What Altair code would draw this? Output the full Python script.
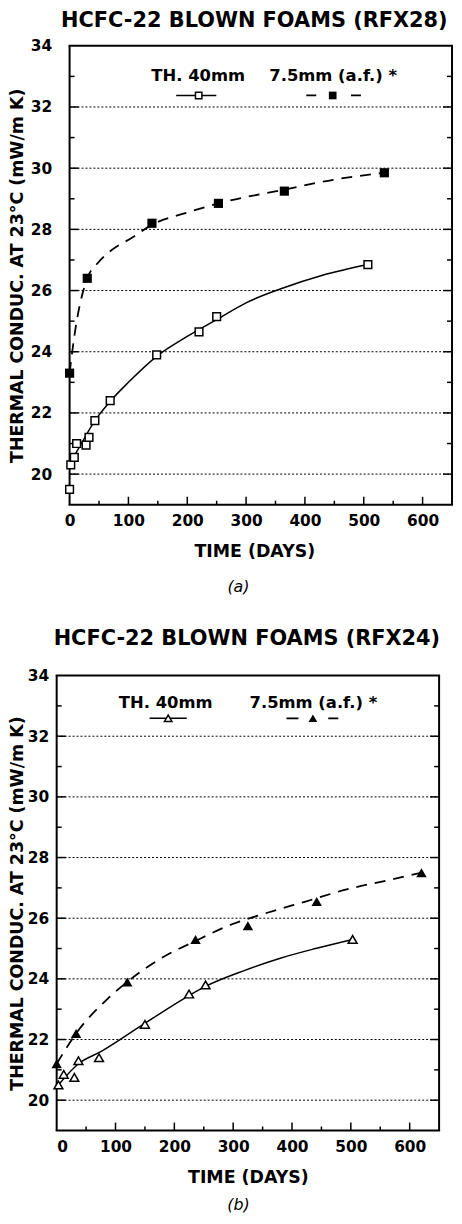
import altair as alt
import pandas as pd

FONT = "DejaVu Sans"
Y_TITLE = "THERMAL CONDUC. AT 23°C (mW/m K)"
X_TITLE = "TIME (DAYS)"

# ---- axis ticks / grid ----
y_major = [20, 22, 24, 26, 28, 30, 32, 34]
y_grid = [20, 22, 24, 26, 28, 30, 32]
y_minor = [21, 23, 25, 27, 29, 31, 33]
x_major = [0, 100, 200, 300, 400, 500, 600]
x_minor = [50, 150, 250, 350, 450, 550]
x_inner_major = [100, 200, 300, 400, 500, 600]

legend_labels = ["TH. 40mm", "7.5mm (a.f.) *"]

# ---- panel (a): RFX28 ----
a_title = "HCFC-22 BLOWN FOAMS (RFX28)"
a_caption = "(a)"
a_th_day = [0, 2, 8, 12, 28, 33, 43, 69, 148, 220, 250, 507]
a_th_k = [19.5, 20.3, 20.55, 21.0, 20.95, 21.2, 21.75, 22.4, 23.9, 24.65, 25.15, 26.85]
a_af_day = [0, 30, 140, 253, 365, 535]
a_af_k = [23.3, 26.4, 28.2, 28.85, 29.25, 29.85]
# drawn curves
a_th_curve_day = [2, 20, 43, 70, 100, 148, 200, 250, 300, 358, 430, 507]
a_th_curve_k = [20.4, 21.0, 21.75, 22.4, 23.0, 23.85, 24.5, 25.05, 25.6, 26.05, 26.5, 26.85]
a_af_curve_day = [0, 8, 30, 48, 70, 108, 140, 200, 253, 365, 448, 535]
a_af_curve_k = [23.3, 24.5, 26.4, 26.9, 27.3, 27.75, 28.15, 28.55, 28.85, 29.3, 29.62, 29.85]

# ---- panel (b): RFX24 ----
b_title = "HCFC-22 BLOWN FOAMS (RFX24)"
b_caption = "(b)"
b_th_day = [3, 12, 30, 37, 72, 150, 225, 253, 503]
b_th_k = [20.5, 20.85, 20.75, 21.3, 21.4, 22.5, 23.5, 23.8, 25.3]
b_af_day = [0, 33, 120, 236, 325, 442, 620]
b_af_k = [21.2, 22.2, 23.9, 25.3, 25.75, 26.55, 27.5]
b_th_curve_day = [5, 37, 75, 147, 225, 253, 320, 380, 440, 503]
b_th_curve_k = [20.55, 21.2, 21.6, 22.5, 23.45, 23.75, 24.28, 24.68, 25.0, 25.3]
b_af_curve_day = [0, 33, 87, 120, 175, 236, 298, 353, 423, 493, 563, 620]
b_af_curve_k = [21.2, 22.2, 23.35, 23.9, 24.65, 25.25, 25.8, 26.15, 26.55, 26.95, 27.25, 27.5]

W = 385          # plot-frame width in px
XMAX = 650
F = W / 391.0    # legend layout factor


def panel(title, caption, th_day, th_k, af_day, af_k, thc_day, thc_k, afc_day, afc_k, shape, H, cfg):
    off = cfg["off"]                      # extra px to the left of the frame
    Wf = W + off
    xmin = -off * XMAX / W

    def X(f):
        return alt.X(f + ":Q", scale=alt.Scale(domain=[xmin, XMAX], nice=False, zero=False),
                     axis=alt.Axis(values=x_major, title=X_TITLE, grid=False,
                                   labelPadding=9, titlePadding=14))

    def Y(f):
        return alt.Y(f + ":Q", scale=alt.Scale(domain=[19, 34], nice=False, zero=False),
                     axis=alt.Axis(values=y_major, title=Y_TITLE, grid=False, minExtent=0,
                                   offset=-off, labelPadding=cfg["lp"], titlePadding=cfg["tp"]))

    th = pd.DataFrame({"day": th_day, "k": th_k})
    af = pd.DataFrame({"day": af_day, "k": af_k})
    thc = pd.DataFrame({"day": thc_day, "k": thc_k})
    afc = pd.DataFrame({"day": afc_day, "k": afc_k})
    one = pd.DataFrame({"t": [0]})

    layers = []
    # dotted grid
    layers.append(alt.Chart(pd.DataFrame({"v": y_grid}))
                  .mark_rule(color="black", strokeWidth=1, strokeDash=[2, 2])
                  .encode(y=Y("v"), x=alt.value(off), x2=alt.value(Wf)))
    # inward ticks
    for vals, ln in [(y_minor, 5), (y_grid, 9)]:
        for x1, x2 in [(off, off + ln), (Wf - ln, Wf)]:
            layers.append(alt.Chart(pd.DataFrame({"v": vals})).mark_rule(color="black", strokeWidth=1.5)
                          .encode(y=Y("v"), x=alt.value(x1), x2=alt.value(x2)))
    for vals, ln in [(x_minor, 4), (x_inner_major, 8)]:
        layers.append(alt.Chart(pd.DataFrame({"v": vals})).mark_rule(color="black", strokeWidth=1.5)
                      .encode(x=X("v"), y=alt.value(H - ln), y2=alt.value(H)))
    # frame
    for enc in [dict(x=alt.value(off), y=alt.value(0), y2=alt.value(H)),
                dict(x=alt.value(Wf), y=alt.value(0), y2=alt.value(H)),
                dict(x=alt.value(off - 1), x2=alt.value(Wf + 1), y=alt.value(0)),
                dict(x=alt.value(off - 1), x2=alt.value(Wf + 1), y=alt.value(H))]:
        layers.append(alt.Chart(one).mark_rule(color="black", strokeWidth=2).encode(**enc))

    layers.append(alt.Chart(thc)
                  .mark_line(interpolate="monotone", color="black", strokeWidth=1.5)
                  .encode(x=X("day"), y=Y("k")))
    layers.append(alt.Chart(afc)
                  .mark_line(interpolate="monotone", color="black", strokeWidth=1.8, strokeDash=[11, 8])
                  .encode(x=X("day"), y=Y("k")))
    layers.append(alt.Chart(th)
                  .mark_point(shape=shape, filled=True, fill="white", stroke="black", strokeWidth=1.5,
                              size=cfg["s_open"], opacity=1)
                  .encode(x=X("day"), y=Y("k")))
    layers.append(alt.Chart(af)
                  .mark_point(shape=shape, filled=True, color="black", size=cfg["s_fill"], opacity=1)
                  .encode(x=X("day"), y=Y("k")))

    # legend
    for lab, cx in zip(legend_labels, cfg["lx"]):
        layers.append(alt.Chart(pd.DataFrame({"t": [lab]}))
                      .mark_text(font=FONT, fontWeight="bold", fontSize=16.5, color="black",
                                 align="center", baseline="middle")
                      .encode(x=alt.value(off + cx * F), y=alt.value(cfg["ly"]), text="t:N"))
    sx1, sx2, smx = cfg["solid"]
    layers.append(alt.Chart(one).mark_rule(color="black", strokeWidth=1.5)
                  .encode(x=alt.value(off + sx1 * F), x2=alt.value(off + sx2 * F), y=alt.value(cfg["sy"])))
    layers.append(alt.Chart(one)
                  .mark_point(shape=shape, filled=True, fill="white", stroke="black", strokeWidth=1.5,
                              size=cfg["s_open"] * 0.7, opacity=1)
                  .encode(x=alt.value(off + smx * F), y=alt.value(cfg["sy"])))
    dx1, dx2, dmx, dd = cfg["dash"]
    layers.append(alt.Chart(one)
                  .mark_rule(color="black", strokeWidth=1.8, strokeDash=dd)
                  .encode(x=alt.value(off + dx1 * F), x2=alt.value(off + dx2 * F), y=alt.value(cfg["sy"])))
    layers.append(alt.Chart(one)
                  .mark_point(shape=shape, filled=True, color="black", size=cfg["s_fill"] * 0.7, opacity=1)
                  .encode(x=alt.value(off + dmx * F), y=alt.value(cfg["sy"])))

    # caption
    layers.append(alt.Chart(pd.DataFrame({"t": [caption]}))
                  .mark_text(font=FONT, fontStyle="italic", fontWeight="normal", fontSize=16, color="black",
                             align="center", baseline="middle")
                  .encode(x=alt.value(off + cfg["cx"]), y=alt.value(H + cfg["cy"]), text="t:N"))

    return alt.layer(*layers).properties(
        width=Wf, height=H,
        title=alt.TitleParams(text=title, offset=cfg["toff"], dx=cfg["tdx"]),
    )


pa = panel(a_title, a_caption, a_th_day, a_th_k, a_af_day, a_af_k,
           a_th_curve_day, a_th_curve_k, a_af_curve_day, a_af_curve_k, "square", 462,
           dict(off=13, lp=18, tp=3.5, s_open=60, s_fill=85, lx=[131.5, 269.5], ly=30, sy=50,
                solid=(109, 150, 132), dash=(242, 299, 269, [10, 35]), cx=170, cy=83,
                toff=7.5, tdx=0))
pb = panel(b_title, b_caption, b_th_day, b_th_k, b_af_day, b_af_k,
           b_th_curve_day, b_th_curve_k, b_af_curve_day, b_af_curve_k, "triangle-up", 458,
           dict(off=0, lp=8, tp=0.5, s_open=80, s_fill=110, lx=[111.5, 262.5], ly=28, sy=43,
                solid=(95, 133, 114), dash=(235, 288, 262, [12, 30]), cx=183, cy=75,
                toff=20, tdx=-1))

chart = (
    alt.vconcat(pa, pb, spacing=33)
    .properties(padding={"left": 0, "right": 0, "top": -2, "bottom": -2}, background="white")
    .configure_view(stroke=None)
    .configure_axis(labelFont=FONT, labelFontWeight="bold", labelFontSize=15.5, labelColor="black",
                    titleFont=FONT, titleFontWeight="bold", titleFontSize=17.5, titleColor="black",
                    domain=False, ticks=False, tickSize=0)
    .configure_title(font=FONT, fontWeight="bold", fontSize=21, color="black", anchor="middle")
)

chart.save("out.html", embed_options={"renderer": "svg", "actions": False})
